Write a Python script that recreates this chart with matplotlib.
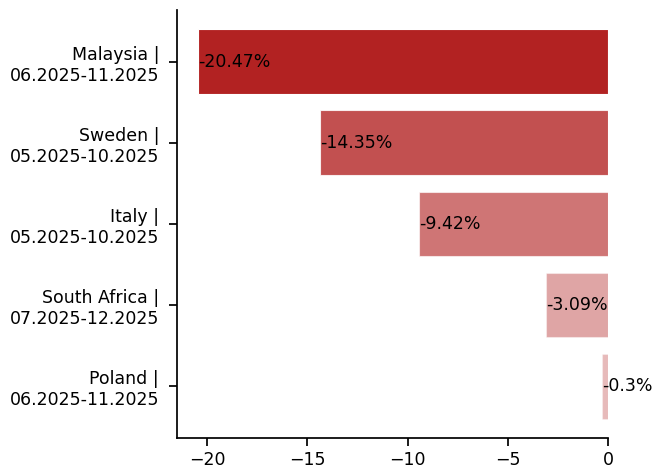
import matplotlib
matplotlib.use("Agg")
import matplotlib.pyplot as plt

# Chart data
countries = ["Malaysia", "Sweden", "Italy", "South Africa", "Poland"]
periods = ["06.2025-11.2025", "05.2025-10.2025", "05.2025-10.2025", "07.2025-12.2025", "06.2025-11.2025"]
changes = [-20.47, -14.35, -9.42, -3.09, -0.3]

labels = [c + " |\n" + p for c, p in zip(countries, periods)]

fig = plt.figure(figsize=(6.54, 4.70), dpi=100)
ax = fig.add_axes([0.271, 0.068, 0.659, 0.911])

# Shade each bar by the size of its change.
biggest = max(abs(v) for v in changes)
for i, v in enumerate(changes):
    alpha = 0.3 + 0.7 * abs(v) / biggest
    ax.barh(i, v, height=0.8, color="firebrick", alpha=alpha,
            edgecolor="white", linewidth=0.8)
    ax.text(v, i, str(v) + "%", ha="left", va="center", fontsize=12.5)

ax.set_yticks(range(len(labels)))
ax.set_yticklabels(labels)
ax.invert_yaxis()

ax.spines["top"].set_visible(False)
ax.spines["right"].set_visible(False)
for side in ["left", "bottom"]:
    ax.spines[side].set_linewidth(1.25)
ax.tick_params(labelsize=12.5, width=1.25, length=6)
ax.tick_params(axis="y", pad=7)

fig.savefig("out.png", dpi=100)
